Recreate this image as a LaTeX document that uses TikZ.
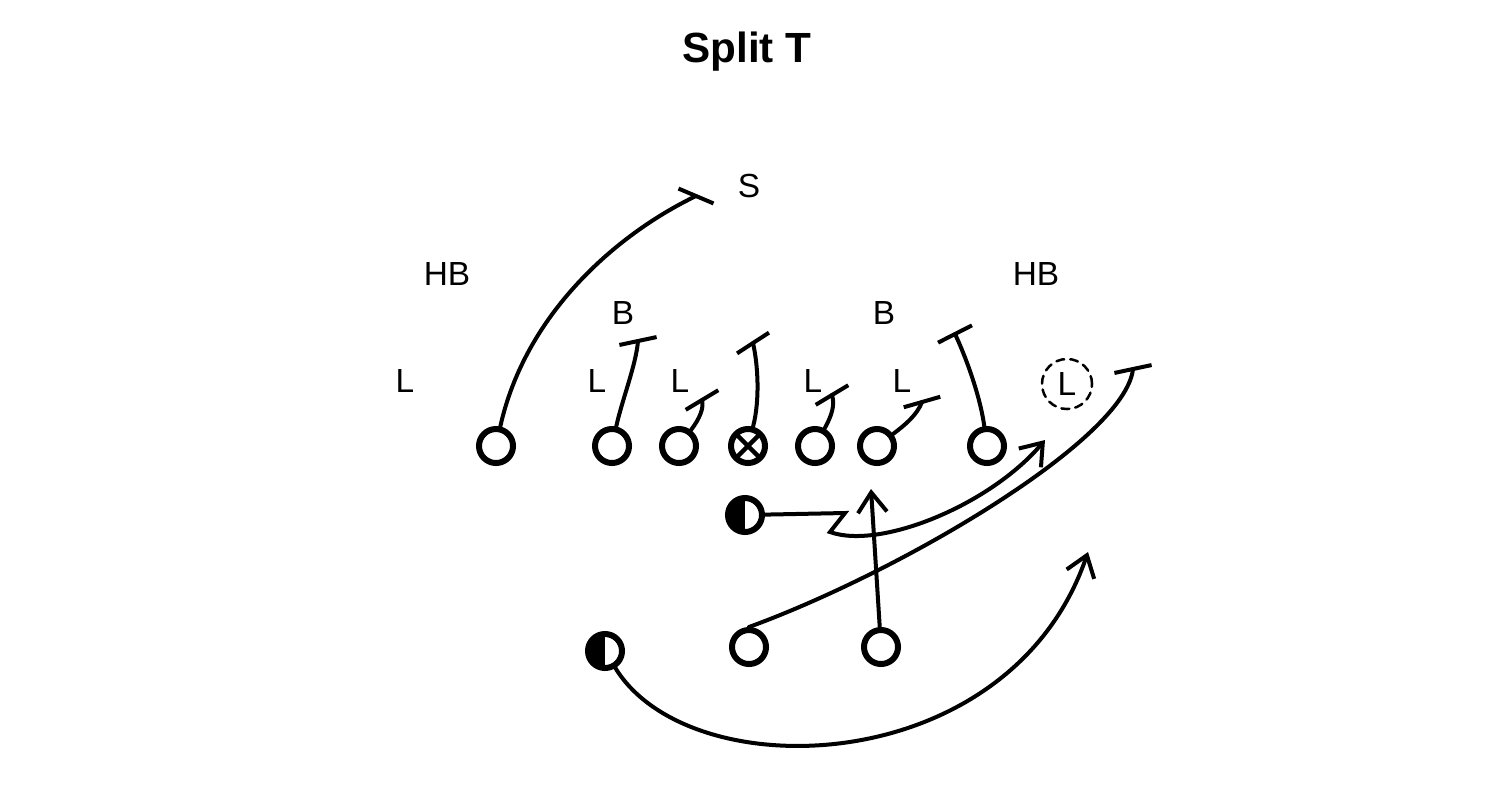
\documentclass[tikz,border=0pt]{standalone}
\usepackage{fontspec}
\setmainfont{Liberation Sans}
\usetikzlibrary{arrows.meta}

\begin{document}
\begin{tikzpicture}[x=0.01cm, y=-0.01cm, line cap=round,
	player/.style={circle, draw, line width=0.6mm, minimum size=0.34cm, inner sep=0},
	ball/.style={player, path picture={\draw[line width=0.45mm] (path picture bounding box.north west) -- (path picture bounding box.south east) (path picture bounding box.north east) -- (path picture bounding box.south west);}},
	half/.style={player, path picture={\fill (path picture bounding box.north) rectangle (path picture bounding box.south west);}},
	ghost/.style={circle, draw, line width=0.25mm, dash pattern=on 0.8mm off 0.6mm, minimum size=0.5cm, inner sep=0, font=\fontsize{9.5}{11}\selectfont},
	defender/.style={font=\fontsize{9.5}{11}\selectfont},
	blk/.style={rectangle, fill, minimum width=0.38cm, minimum height=0.4mm, inner sep=0},
	route/.style={line width=0.4mm},
	run/.style={route, -{Straight Barb[length=2mm, width=2.9mm]}}]
	\useasboundingbox (0,0) rectangle (1500,799);
	
	\node[font=\fontsize{12}{14}\selectfont\bfseries, anchor=base] (title) at (747,62) {Split T};
	
	% offense
	\node[player] (le) at (496,446) {};
	\node[player] (lt) at (612,446) {};
	\node[player] (lg) at (679,446) {};
	\node[ball] (c) at (748,446) {};
	\node[player] (rg) at (815,446) {};
	\node[player] (rt) at (877,446) {};
	\node[player] (re) at (987,446) {};
	\node[half] (qb) at (745,515) {};
	\node[half] (hbl) at (605,651) {};
	\node[player] (hbr) at (749,647) {};
	\node[player] (fb) at (881,647) {};
	
	% defense
	\node[defender] (s) at (749,186) {S};
	\node[defender] (hb1) at (447,274) {HB};
	\node[defender] (hb2) at (1036,274) {HB};
	\node[defender] (b1) at (623,313) {B};
	\node[defender] (b2) at (884,313) {B};
	\node[defender] (l1) at (405,381) {L};
	\node[defender] (l2) at (597,381) {L};
	\node[defender] (l3) at (680,381) {L};
	\node[defender] (l4) at (813,381) {L};
	\node[defender] (l5) at (902,381) {L};
	\node[ghost] (l6) at (1067,384) {L};
	
	% blocks
	\node[blk, rotate=-23] (sblk) at (696,196) {};
	\node[blk, rotate=12] (ltblk) at (638,341) {};
	\node[blk, rotate=31] (lgblk) at (702,400) {};
	\node[blk, rotate=33] (cblk) at (753,343) {};
	\node[blk, rotate=31] (rgblk) at (832,395) {};
	\node[blk, rotate=16] (rtblk) at (922,402) {};
	\node[blk, rotate=27] (reblk) at (955,334) {};
	\node[blk, rotate=12] (hbrblk) at (1133,369) {};
	
	\coordinate (qk1) at (845,513);
	\coordinate (qk2) at (830,532);
	\coordinate (qbend) at (1045,440);
	\coordinate (fbend) at (871,489);
	\coordinate (hblend) at (1088,552);
	
	\draw[route] (le) .. controls (525,315) and (615,235) .. (sblk.center);
	\draw[route] (lt) .. controls (622,400) and (636,365) .. (ltblk.center);
	\draw[route] (lg) .. controls (700,418) and (704,408) .. (lgblk.center);
	\draw[route] (c) .. controls (760,400) and (758,365) .. (cblk.center);
	\draw[route] (rg) .. controls (832,415) and (835,405) .. (rgblk.center);
	\draw[route] (rt) .. controls (905,425) and (917,415) .. (rtblk.center);
	\draw[route] (re) .. controls (980,395) and (965,355) .. (reblk.center);
	\draw[route] (hbr.north) .. controls (900,572) and (1125,440) .. (hbrblk.center);
	
	\draw[run] (fb) -- (fbend);
	\draw[run] (qb) -- (qk1) -- (qk2) .. controls (880,550) and (990,505) .. (qbend);
	\draw[run] (hbl) .. controls (690,790) and (1010,780) .. (hblend);
	
\end{tikzpicture}
\end{document}
